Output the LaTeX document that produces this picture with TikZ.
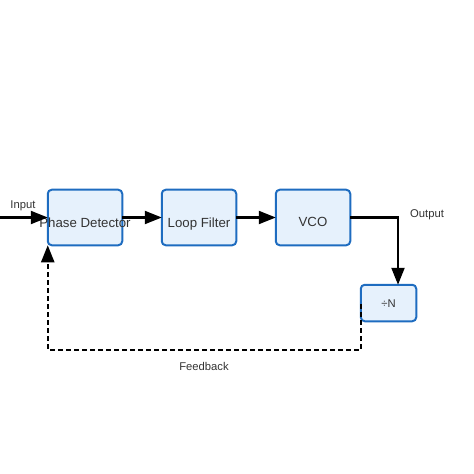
\documentclass[tikz,border=0pt]{standalone}
\usepackage{fontspec}
\setmainfont{Liberation Sans}
\usetikzlibrary{arrows.meta}
\definecolor{boxfill}{HTML}{E6F1FC}
\definecolor{boxdraw}{HTML}{1E6CC0}
\definecolor{txt}{HTML}{333333}
\begin{document}
\begin{tikzpicture}[x=1bp,y=-1bp,
 blk/.style={draw=boxdraw,fill=boxfill,line width=2bp,rounded corners=4bp,minimum width=74.5bp,minimum height=55.5bp,inner sep=0pt,outer sep=0pt},
 smallblk/.style={blk,minimum width=55.5bp,minimum height=36.5bp},
 blktext/.style={text=txt,font=\fontsize{13.3}{15}\selectfont,inner sep=0pt,text height=10bp,text depth=3bp},
 lbl/.style={text=txt,font=\fontsize{11.3}{13}\selectfont,inner sep=0pt,text height=8.5bp,text depth=2.5bp},
 conn/.style={line width=2.2bp,-{Triangle[length=17bp,width=13bp]}},
 fb/.style={conn,dash pattern=on 5bp off 3bp}]
\useasboundingbox (0,0) rectangle (474,474);
\node[blk] (pd) at (85,217.5) {};
\node[blk] (lf) at (199,217.5) {};
\node[blk] (vco) at (313,217.5) {};
\node[smallblk] (div) at (388.5,303) {};
\node[blktext] (pdt) at ([yshift=-6.5bp]pd.center) {Phase Detector};
\node[blktext] (lft) at ([yshift=-6.5bp]lf.center) {Loop Filter};
\node[blktext] (vcot) at ([yshift=-6bp]vco.center) {VCO};
\node[lbl] (divt) at ([yshift=-1bp]div.center) {÷N};
\coordinate (in) at (0,217.5);
\coordinate (fbb) at (0,350);
\draw[conn] (in) -- (pd.west);
\draw[conn] (pd.east) -- (lf.west);
\draw[conn] (lf.east) -- (vco.west);
\draw[conn] (vco.east) -| ([xshift=9.5bp]div.north);
\draw[fb] ([yshift=-1bp]div.west) -- (div.west |- fbb) -| (pd.south west);
\node[lbl] (inl) at (23,206) {Input};
\node[lbl] (outl) at (427,215) {Output};
\node[lbl] (fbl) at (204,367) {Feedback};
\end{tikzpicture}
\end{document}
